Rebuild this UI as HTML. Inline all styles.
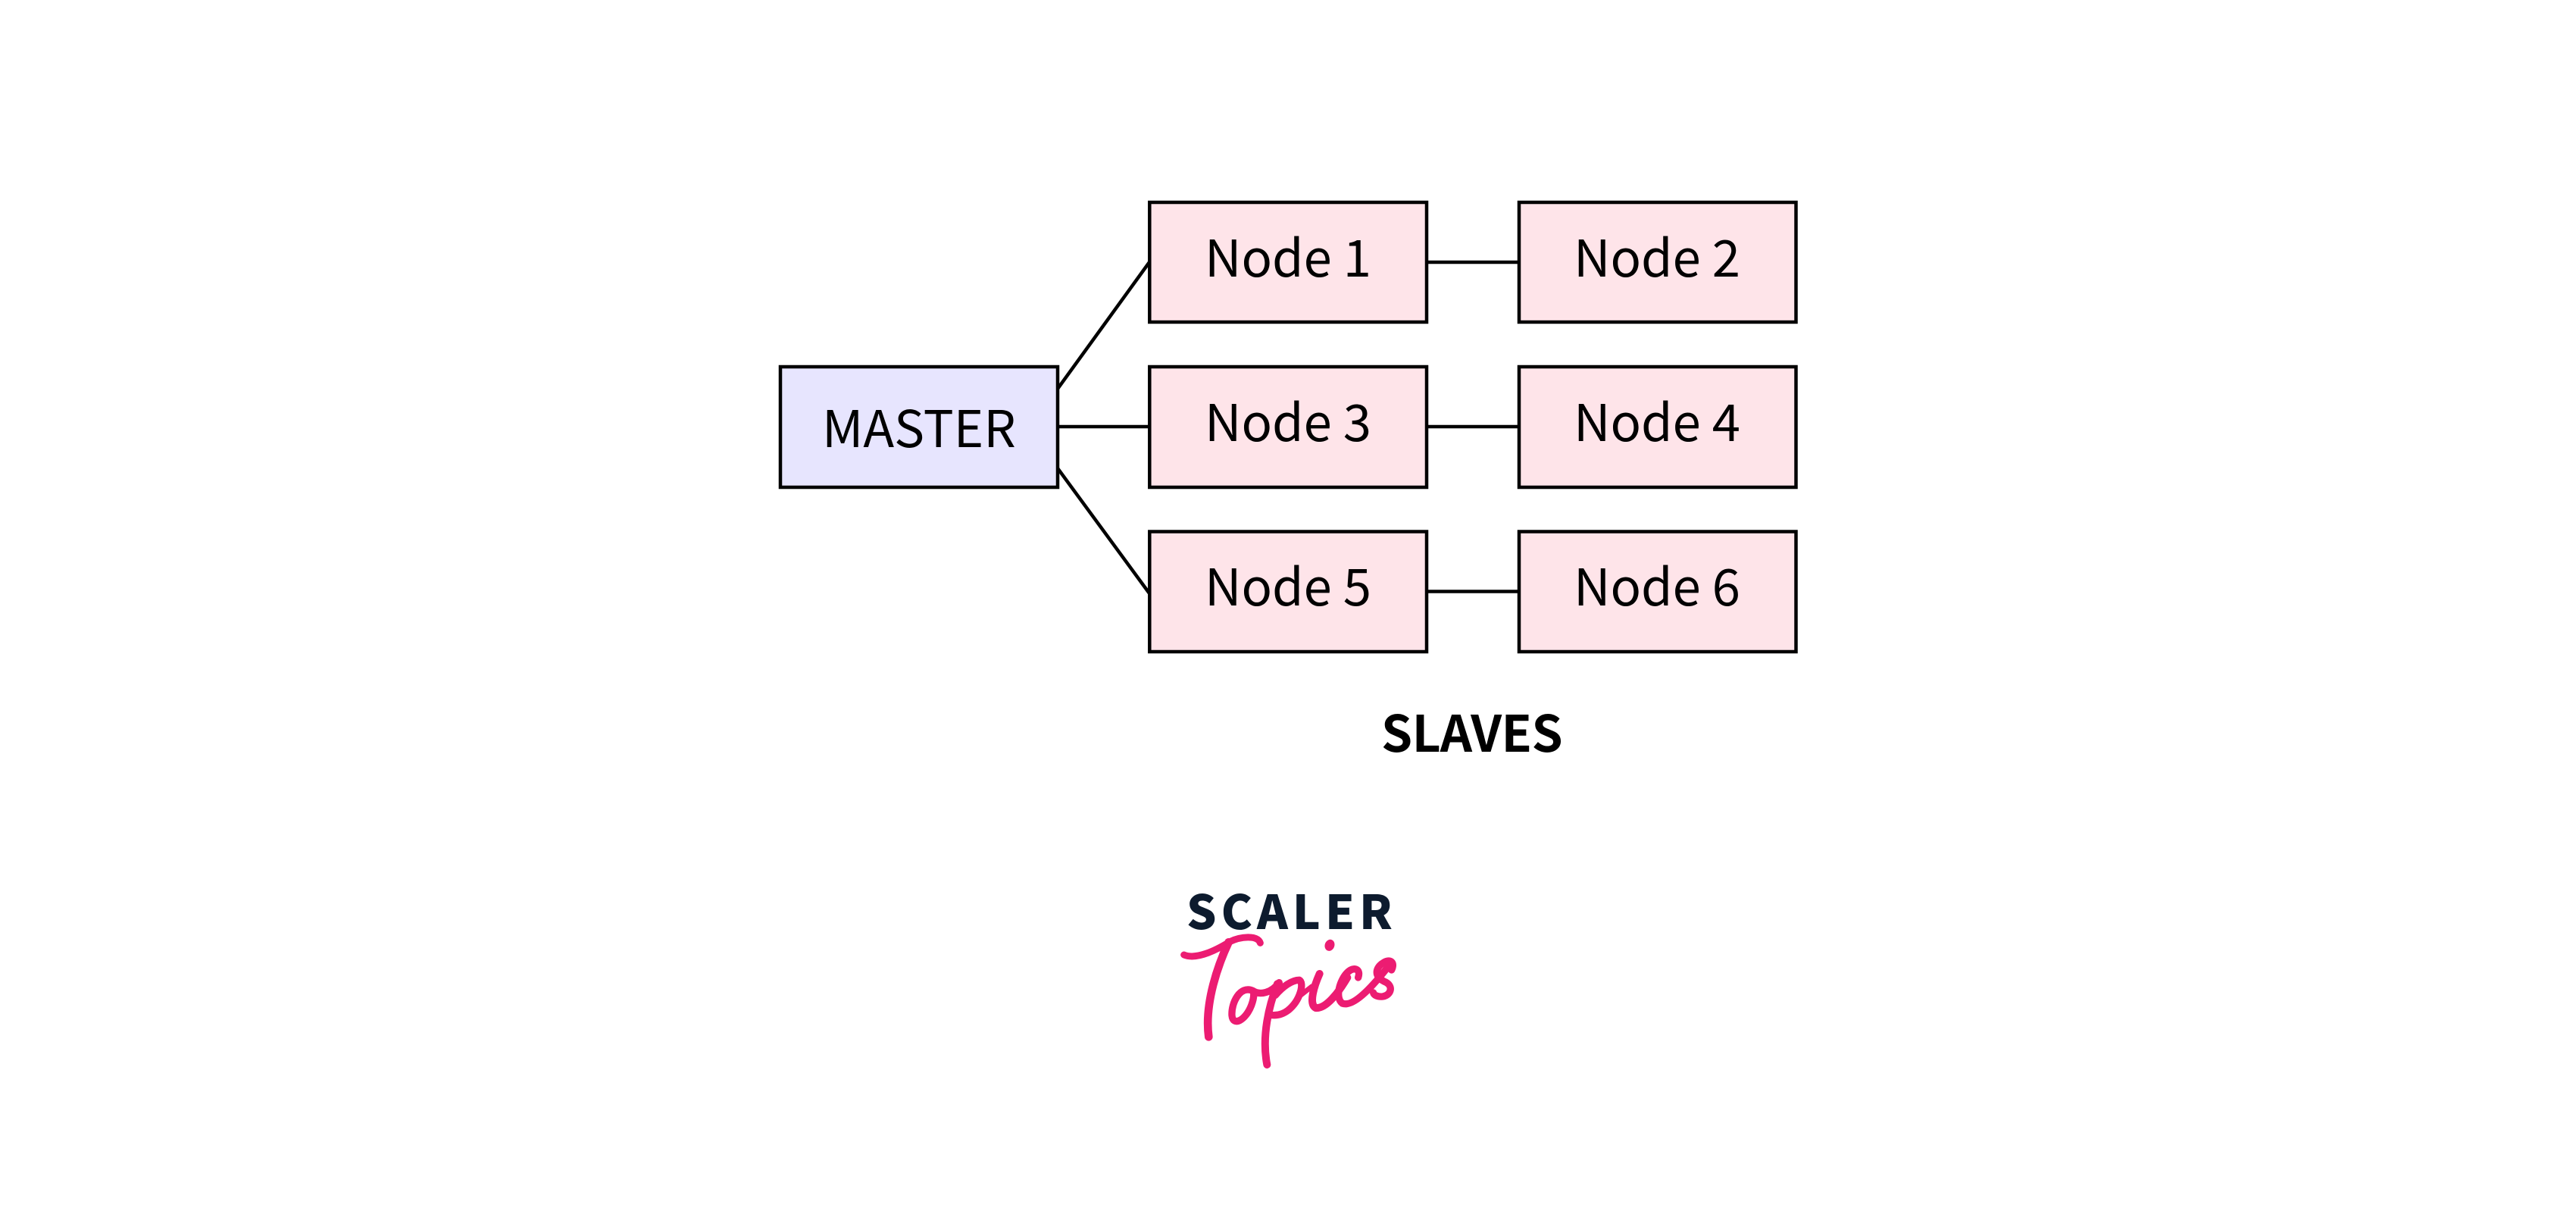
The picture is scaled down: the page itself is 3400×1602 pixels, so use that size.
<!DOCTYPE html>
<html>
<head>
<meta charset="utf-8">
<style>
html,body{margin:0;padding:0;background:#fff;width:3400px;height:1602px;overflow:hidden}
svg{display:block}
text{font-family:"Noto Sans CJK JP","Liberation Sans",sans-serif}
</style>
</head>
<body>
<svg width="3400" height="1602" viewBox="0 0 3400 1602" xmlns="http://www.w3.org/2000/svg">
<rect width="3400" height="1602" fill="#fff"/>
<g stroke="#000" stroke-width="4.5" fill="none">
<path d="M1396 513L1517 346M1396 563H1517M1396 618L1517 783M1883 346H2005M1883 563H2005M1883 780.500H2005"/>
</g>
<g stroke="#000" stroke-width="4.500">
<rect x="1030" y="484" width="366" height="159" fill="#e7e5fe"/>
<rect x="1517.300" y="267" width="365.700" height="158" fill="#fee4e9"/>
<rect x="2005" y="267" width="365.500" height="158" fill="#fee4e9"/>
<rect x="1517.300" y="484" width="365.700" height="159" fill="#fee4e9"/>
<rect x="2005" y="484" width="365.500" height="159" fill="#fee4e9"/>
<rect x="1517.300" y="701.500" width="365.700" height="158.500" fill="#fee4e9"/>
<rect x="2005" y="701.500" width="365.500" height="158.500" fill="#fee4e9"/>
</g>
<g font-size="67" fill="#000">
<text x="1085" y="590">MASTER</text>
<text x="1590" y="365">Node 1</text>
<text x="2077" y="365">Node 2</text>
<text x="1590" y="582">Node 3</text>
<text x="2077" y="582">Node 4</text>
<text x="1590" y="799">Node 5</text>
<text x="2077" y="799">Node 6</text>
<text x="1823" y="992" font-size="66" font-weight="700" letter-spacing="-0.6">SLAVES</text>
</g>
<text x="1566" y="1226" font-size="62" font-weight="900" fill="#0d1b2e" letter-spacing="6">SCALER</text>
<g transform="translate(1520 1150) scale(.3333)" fill="none" stroke="#ec1c72" stroke-width="30" stroke-linecap="round" stroke-linejoin="round">
<path stroke-width="27" d="M128 330C175 350 250 315 310 278C350 258 420 250 430 283"/>
<path stroke-width="32" d="M305 280C265 365 208 520 226 655"/>
<path stroke-width="28" d="M400 472C350 450 315 520 318 570C322 615 372 590 395 530C408 495 405 478 400 472C430 492 475 480 505 440"/>
<path stroke-width="30" d="M498 445C465 530 435 650 457 765"/>
<path stroke-width="28" d="M490 490C520 455 555 430 585 430C605 440 590 510 540 550C520 565 495 572 470 568"/>
<path stroke-width="30" d="M665 405C645 450 620 525 650 540C690 545 740 480 775 420"/>
<path stroke-width="20" d="M590 490L635 455"/>
<path stroke-width="28" d="M818 420C830 385 800 375 775 400C745 430 725 500 755 522C800 540 880 450 950 360"/>
<path stroke-width="28" d="M950 390C965 360 945 345 920 360C885 380 880 415 920 435C960 450 950 490 915 495C895 497 880 490 878 480"/>
<ellipse cx="705" cy="292" rx="19" ry="23" transform="rotate(20 705 292)" fill="#ec1c72" stroke="none"/>
</g>
</svg>
</body>
</html>
